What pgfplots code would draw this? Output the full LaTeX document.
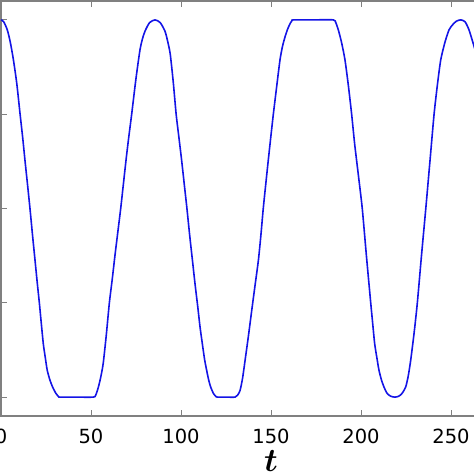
\documentclass[border=0pt]{standalone}
\usepackage{pgfplots}
\pgfplotsset{compat=1.18}
\usepackage{graphicx}
\usepackage{amsmath}
\usepackage{bm}
\usepackage{fontspec}
\setmainfont{DejaVu Sans}
\usetikzlibrary{calc}

\begin{document}
\begin{tikzpicture}
  \begin{axis}[
      scale only axis,
      width=540pt, height=415pt,
      xmin=0, xmax=300,
      ymin=-1.1, ymax=1.1,
      xtick={0,50,...,300},
      ytick={-1,-0.5,0,0.5,1},
      yticklabels={},
      tick align=inside,
      major tick length=6pt,
      axis line style={draw=black!50, line width=1.5pt},
      tick style={draw=black!50, line width=1pt},
      ticklabel style={font=\fontsize{19.5}{23}\selectfont},
      xticklabel style={anchor=base, yshift=-27pt},
      /pgf/number format/assume math mode=true,
      xlabel={\scalebox{3.3}{$\bm{t}$}},
      xlabel style={at={(axis description cs:0.5,0)}, anchor=base, yshift=-55pt},
    ]
    \addplot[color={rgb,255:red,20;green,20;blue,230}, line width=1.6pt,
             smooth, tension=0.4] coordinates {
      (0,1.0) (1.5,0.99) (3.5,0.947) (5.2,0.88) (6.9,0.788) (8.8,0.66)
      (10.6,0.50) (12.0,0.38) (13.3,0.257) (14.7,0.13) (16.1,0.0)
      (17.5,-0.14) (18.9,-0.274) (20.1,-0.39) (21.3,-0.50) (22.4,-0.61)
      (23.5,-0.717) (24.6,-0.79) (25.7,-0.858) (27.2,-0.91) (28.7,-0.947)
      (30.5,-0.98) (32.0,-0.997) (32.8,-1)
      (42.0,-1) (51.3,-1) (52.6,-0.99) (54.1,-0.947) (55.5,-0.89) (56.8,-0.82)
      (58.5,-0.67) (60.2,-0.5) (61.8,-0.375) (63.3,-0.25) (64.9,-0.125)
      (66.5,0) (68.0,0.13) (69.5,0.26) (71.0,0.38) (72.6,0.5) (75.0,0.69)
      (77.2,0.84) (78.6,0.90) (80.0,0.94) (82.5,0.985) (85.6,1.0)
      (88.5,0.985) (91.1,0.94) (92.5,0.89) (94.0,0.82) (95.7,0.67)
      (97.3,0.5) (98.8,0.38) (100.3,0.26) (101.8,0.13) (103.3,0)
      (104.8,-0.14) (106.3,-0.27) (107.8,-0.40) (109.3,-0.52) (110.6,-0.63)
      (111.9,-0.72) (113.1,-0.80) (114.3,-0.86) (115.4,-0.91) (116.5,-0.947)
      (118.0,-0.98) (119.4,-0.997) (120.2,-1)
      (125.0,-1) (130.0,-1) (131.4,-0.99) (132.8,-0.965) (134.2,-0.90) (135.6,-0.805)
      (137.4,-0.68) (139.3,-0.54) (141.1,-0.41) (143.0,-0.274) (144.4,-0.14)
      (145.7,0) (147.1,0.13) (148.5,0.257) (149.9,0.38) (151.3,0.5)
      (153.2,0.65) (155.0,0.788) (156.4,0.86) (157.8,0.91) (159.2,0.95)
      (160.6,0.98) (161.6,0.995) (162.4,1.0)
      (173.5,1.0) (184.6,1.0) (186.0,0.985) (187.4,0.947) (189.2,0.88) (191.1,0.788)
      (193.0,0.65) (194.8,0.5) (196.5,0.34) (198.5,0.18) (200.7,0)
      (203.0,-0.25) (205.4,-0.5) (206.5,-0.61) (207.6,-0.717) (208.8,-0.79)
      (210.0,-0.858) (211.4,-0.91) (212.8,-0.947) (214.5,-0.98) (216.5,-0.995)
      (218.8,-1.0) (221.0,-0.995) (222.8,-0.98) (224.8,-0.947) (226.2,-0.89)
      (227.6,-0.805) (229.5,-0.66) (231.3,-0.5) (233.6,-0.25) (236.0,0)
      (238.3,0.25) (240.6,0.5) (242.5,0.66) (244.3,0.788) (246.6,0.88)
      (248.9,0.947) (251.0,0.975) (253.0,0.993) (255.4,1.0) (257.8,0.99)
      (260.0,0.947) (262.8,0.86) (264.0,0.82)
    };
    \coordinate (sw) at (rel axis cs:0,0);
    \coordinate (ne) at (rel axis cs:1,1);
  \end{axis}
  \pgfresetboundingbox
  \path[use as bounding box] ($(sw)+(-1pt,-58pt)$) rectangle ($(sw|-ne)+(473pt,1pt)$);
\end{tikzpicture}
\end{document}
